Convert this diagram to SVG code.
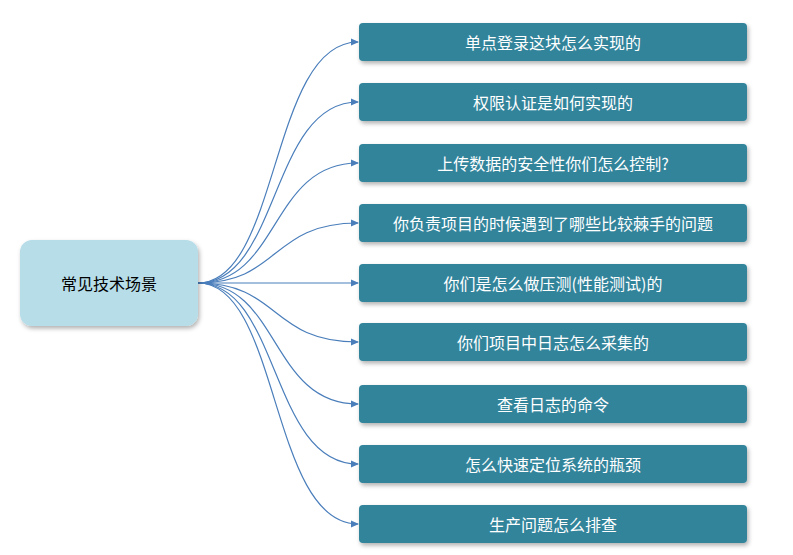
<svg xmlns="http://www.w3.org/2000/svg" width="793" height="555" viewBox="0 0 793 555">
<defs>
<marker id="ah" markerWidth="8" markerHeight="8" refX="7" refY="4" orient="auto" markerUnits="userSpaceOnUse"><path d="M0,0.5 L8,4 L0,7.5 Z" fill="#4a7ebb"/></marker>
<filter id="sh" x="-10%" y="-10%" width="130%" height="140%"><feDropShadow dx="1.5" dy="2.5" stdDeviation="2" flood-color="#000" flood-opacity="0.3"/></filter>
</defs>
<style>
.c{fill:none;stroke:#4a7ebb;stroke-width:1.2;marker-end:url(#ah)}
.n rect{fill:#31849b;filter:url(#sh)}
.n text{fill:#fff;font-family:"Noto Sans CJK SC","Liberation Sans",sans-serif;font-size:16px;text-anchor:middle;dominant-baseline:central}
</style>
<rect width="793" height="555" fill="#fff"/>
<g id="connectors">
<path class="c" d="M198,283 C280,283 270,42 358,42"/>
<path class="c" d="M198,283 C280,283 270,102 358,102"/>
<path class="c" d="M198,283 C280,283 270,163 358,163"/>
<path class="c" d="M198,283 C280,283 270,223 358,223"/>
<path class="c" d="M198,283 L358,283"/>
<path class="c" d="M198,283 C280,283 270,342 358,342"/>
<path class="c" d="M198,283 C280,283 270,404 358,404"/>
<path class="c" d="M198,283 C280,283 270,464 358,464"/>
<path class="c" d="M198,283 C280,283 270,524 358,524"/>
</g>
<g id="root"><rect x="20" y="240" width="178" height="86" rx="12" fill="#b6dde8" filter="url(#sh)"/><text x="109" y="283" font-family="Noto Sans CJK SC,Liberation Sans,sans-serif" font-size="16" text-anchor="middle" dominant-baseline="central" fill="#000">常见技术场景</text></g>
<g id="n1" class="n"><rect x="359" y="23" width="388" height="38" rx="4"/><text x="553" y="42">单点登录这块怎么实现的</text></g>
<g id="n2" class="n"><rect x="359" y="83" width="388" height="38" rx="4"/><text x="553" y="102">权限认证是如何实现的</text></g>
<g id="n3" class="n"><rect x="359" y="144" width="388" height="38" rx="4"/><text x="553" y="163">上传数据的安全性你们怎么控制?</text></g>
<g id="n4" class="n"><rect x="359" y="204" width="388" height="38" rx="4"/><text x="553" y="223">你负责项目的时候遇到了哪些比较棘手的问题</text></g>
<g id="n5" class="n"><rect x="359" y="264" width="388" height="38" rx="4"/><text x="553" y="283">你们是怎么做压测(性能测试)的</text></g>
<g id="n6" class="n"><rect x="359" y="323" width="388" height="38" rx="4"/><text x="553" y="342">你们项目中日志怎么采集的</text></g>
<g id="n7" class="n"><rect x="359" y="385" width="388" height="38" rx="4"/><text x="553" y="404">查看日志的命令</text></g>
<g id="n8" class="n"><rect x="359" y="445" width="388" height="38" rx="4"/><text x="553" y="464">怎么快速定位系统的瓶颈</text></g>
<g id="n9" class="n"><rect x="359" y="505" width="388" height="38" rx="4"/><text x="553" y="524">生产问题怎么排查</text></g>
</svg>
